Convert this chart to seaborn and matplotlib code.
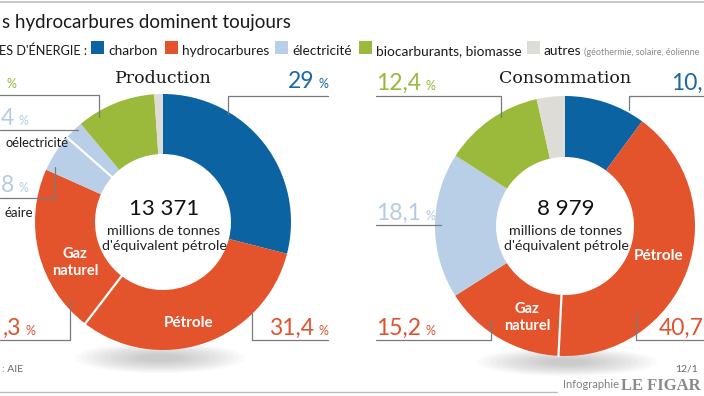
import numpy as np
import matplotlib.pyplot as plt
import seaborn as sns
from matplotlib.patches import Ellipse, Rectangle

# data (AIE, 2012) - the picture is a crop, some labels only show their tail
prod_labels = ["charbon", "pétrole", "gaz naturel", "nucléaire", "hydroélectricité", "biocarburants, biomasse", "autres"]
prod_values = [29.0, 31.4, 21.3, 4.8, 2.4, 10.0, 1.1]
prod_kind = ["charbon", "hydrocarbures", "hydrocarbures", "électricité", "électricité", "biocarburants, biomasse", "autres"]
prod_total = "13 371"

cons_labels = ["charbon", "pétrole", "gaz naturel", "électricité", "biocarburants, biomasse", "autres"]
cons_values = [10.1, 40.7, 15.2, 18.1, 12.4, 3.5]
cons_kind = ["charbon", "hydrocarbures", "hydrocarbures", "électricité", "biocarburants, biomasse", "autres"]
cons_total = "8 979"

legend_items = ["charbon", "hydrocarbures", "électricité", "biocarburants, biomasse", "autres"]

palette = dict(zip(legend_items, sns.color_palette(["#0b64a1", "#e3532c", "#b9cfe7", "#9bba3b", "#dddcd6"])))
text_col = {"charbon": "#1a67a6", "hydrocarbures": "#df532d", "électricité": "#b5cbe4",
            "biocarburants, biomasse": "#98b83d", "autres": "#aaaaaa"}

sns.set_theme(style="white")
plt.rcParams['font.family'] = ['Lato', 'DejaVu Sans']

fig = plt.figure(figsize=(7.04, 3.96), dpi=100)
ax = fig.add_axes([0, 0, 1, 1])
renderer = fig.canvas.get_renderer()
GREY = "#7a7a7a"


def shadow(cx, cy, w, h):
    for k in range(12):
        s = 1 - k * 0.07
        ax.add_patch(Ellipse((cx, cy), w * s, h * s, color="#8c8c8c", alpha=0.045, lw=0, zorder=1))


def donut(values, kinds, cx, cy, r, width, title, total, seps):
    cols = [palette[k] for k in kinds]
    ax.pie(values, colors=cols, startangle=-90, counterclock=True, radius=r, center=(cx, cy),
           wedgeprops=dict(width=width, linewidth=0, zorder=2), frame=True)
    cum = np.cumsum(values) / np.sum(values)
    for k in seps:
        th = np.radians(-90 + 360 * cum[k - 1])
        u = np.array([np.cos(th), np.sin(th)])
        p0 = np.array([cx, cy]) + (r - width) * u
        p1 = np.array([cx, cy]) + r * u
        ax.plot([p0[0], p1[0]], [p0[1], p1[1]], color="white", lw=1.6, zorder=3)
    ax.text(cx, 83, title, ha="center", va="baseline", family="DejaVu Serif", fontsize=12.5, color="#1a1a1a")
    ax.text(cx + 1, 215, total, ha="center", va="baseline", fontsize=16, color="#111111")
    ax.text(cx + 1, 235, "millions de tonnes", ha="center", va="baseline", fontsize=10.3, color="#222222")
    ax.text(cx + 1, 250, "d'équivalent pétrole", ha="center", va="baseline", fontsize=10.3, color="#222222")


def fmt(v):
    return f"{v:g}".replace(".", ",")


def pct(v, kind, x, y, side, cut=None, sign=True):
    # cut: slice of the number text that is still inside the crop
    col = text_col[kind]
    num = fmt(v)
    if cut is not None:
        num = num[cut]
    if side == "right":
        t = ax.text(x, y, "%", ha="right", va="baseline", fontsize=9, color=col)
        w = t.get_window_extent(renderer).width
        if num:
            ax.text(x - w - 4, y, num, ha="right", va="baseline", fontsize=16.5, color=col)
    else:
        t = ax.text(x, y, num, ha="left", va="baseline", fontsize=16.5, color=col)
        w = t.get_window_extent(renderer).width
        if sign:
            ax.text(x + w + 4, y, "%", ha="left", va="baseline", fontsize=9, color=col)


def leader(pts):
    xs, ys = zip(*pts)
    ax.plot(xs, ys, color=GREY, lw=0.9, zorder=4)


# shadows under the rings
shadow(160, 358, 170, 30)
shadow(567, 362, 180, 28)

# production
donut(prod_values, prod_kind, 163, 222, 128, 60, "Production", prod_total, seps=[2, 4])
pct(prod_values[0], prod_kind[0], 328, 88, "right")
pct(prod_values[1], prod_kind[1], 328, 335, "right")
pct(prod_values[2], prod_kind[2], 35, 335, "right", cut=slice(-2, None))
pct(prod_values[3], prod_kind[3], 28, 192, "right", cut=slice(-1, None))
pct(prod_values[4], prod_kind[4], 28, 125, "right", cut=slice(-1, None))
pct(prod_values[5], prod_kind[5], 16, 88, "right", cut=slice(0, 0))
ax.text(68, 147, "oélectricité", ha="right", va="baseline", fontsize=9.3, color="#1a1a1a")
ax.text(33, 217, "éaire", ha="right", va="baseline", fontsize=9.5, color="#1a1a1a")
leader([(228, 114), (228, 96), (328, 96)])
leader([(252, 313), (252, 340), (328, 340)])
leader([(70, 300), (70, 340), (0, 340)])
leader([(55, 167), (55, 198), (0, 198)])
leader([(78, 130), (0, 130)])
leader([(99, 117), (99, 95), (0, 95)])
ax.text(75, 258, "Gaz", ha="center", va="baseline", fontsize=10.5, weight="bold", color="white", zorder=5)
ax.text(75, 275, "naturel", ha="center", va="baseline", fontsize=10.5, weight="bold", color="white", zorder=5)
ax.text(189, 327, "Pétrole", ha="center", va="baseline", fontsize=11, weight="bold", color="white", zorder=5)

# consommation
donut(cons_values, cons_kind, 565, 226, 130, 61, "Consommation", cons_total, seps=[2])
pct(cons_values[0], cons_kind[0], 671, 90, "left", cut=slice(0, 3), sign=False)
pct(cons_values[1], cons_kind[1], 659, 335, "left", sign=False)
pct(cons_values[2], cons_kind[2], 376, 335, "left")
pct(cons_values[3], cons_kind[3], 376, 220, "left")
pct(cons_values[4], cons_kind[4], 376, 90, "left")
leader([(629, 110), (629, 96), (704, 96)])
leader([(636, 313), (636, 340), (704, 340)])
leader([(491, 320), (491, 340), (376, 340)])
leader([(441, 225), (376, 225)])
leader([(501, 117), (501, 96), (376, 96)])
ax.text(527, 313, "Gaz", ha="center", va="baseline", fontsize=10.5, weight="bold", color="white", zorder=5)
ax.text(527, 330, "naturel", ha="center", va="baseline", fontsize=10.5, weight="bold", color="white", zorder=5)
ax.text(659, 260, "Pétrole", ha="center", va="baseline", fontsize=11, weight="bold", color="white", zorder=5)

# header
ax.text(291, 28, "s hydrocarbures dominent toujours", ha="right", va="baseline", fontsize=13.5, color="#1a1a1a")
ax.text(87, 55, "ES D'ÉNERGIE :", ha="right", va="baseline", fontsize=9.2, color="#1a1a1a")
sq_x = [91, 165, 275, 359, 527]
for name, x in zip(legend_items, sq_x):
    ax.add_patch(Rectangle((x, 41), 13, 13, color=palette[name], lw=0))
    ax.text(x + 17, 55, name, ha="left", va="baseline", fontsize=9.8, color="#1a1a1a")
ax.text(584, 55, "(géothermie, solaire, éolienne", ha="left", va="baseline", fontsize=6.5, color="#8a8a8a")

# footer
ax.plot([0, 704], [2, 2], color="#c8c8c8", lw=1.5)
ax.plot([0, 557], [392, 392], color="#bdbdbd", lw=1)
ax.text(23, 372, ": AIE", ha="right", va="baseline", fontsize=7.5, color="#666666")
ax.text(675, 372, "12/1", ha="left", va="baseline", fontsize=7.5, color="#666666")
ax.text(563, 388, "Infographie", ha="left", va="baseline", fontsize=8, color="#808080")
ax.text(621, 390, "LE FIGAR", ha="left", va="baseline", fontsize=12, weight="bold",
        family="Liberation Serif", color="#8a8a8a")

ax.set_xlim(0, 704)
ax.set_ylim(396, 0)
ax.set_aspect("equal")
ax.axis("off")
fig.savefig("out.png", dpi=100)
